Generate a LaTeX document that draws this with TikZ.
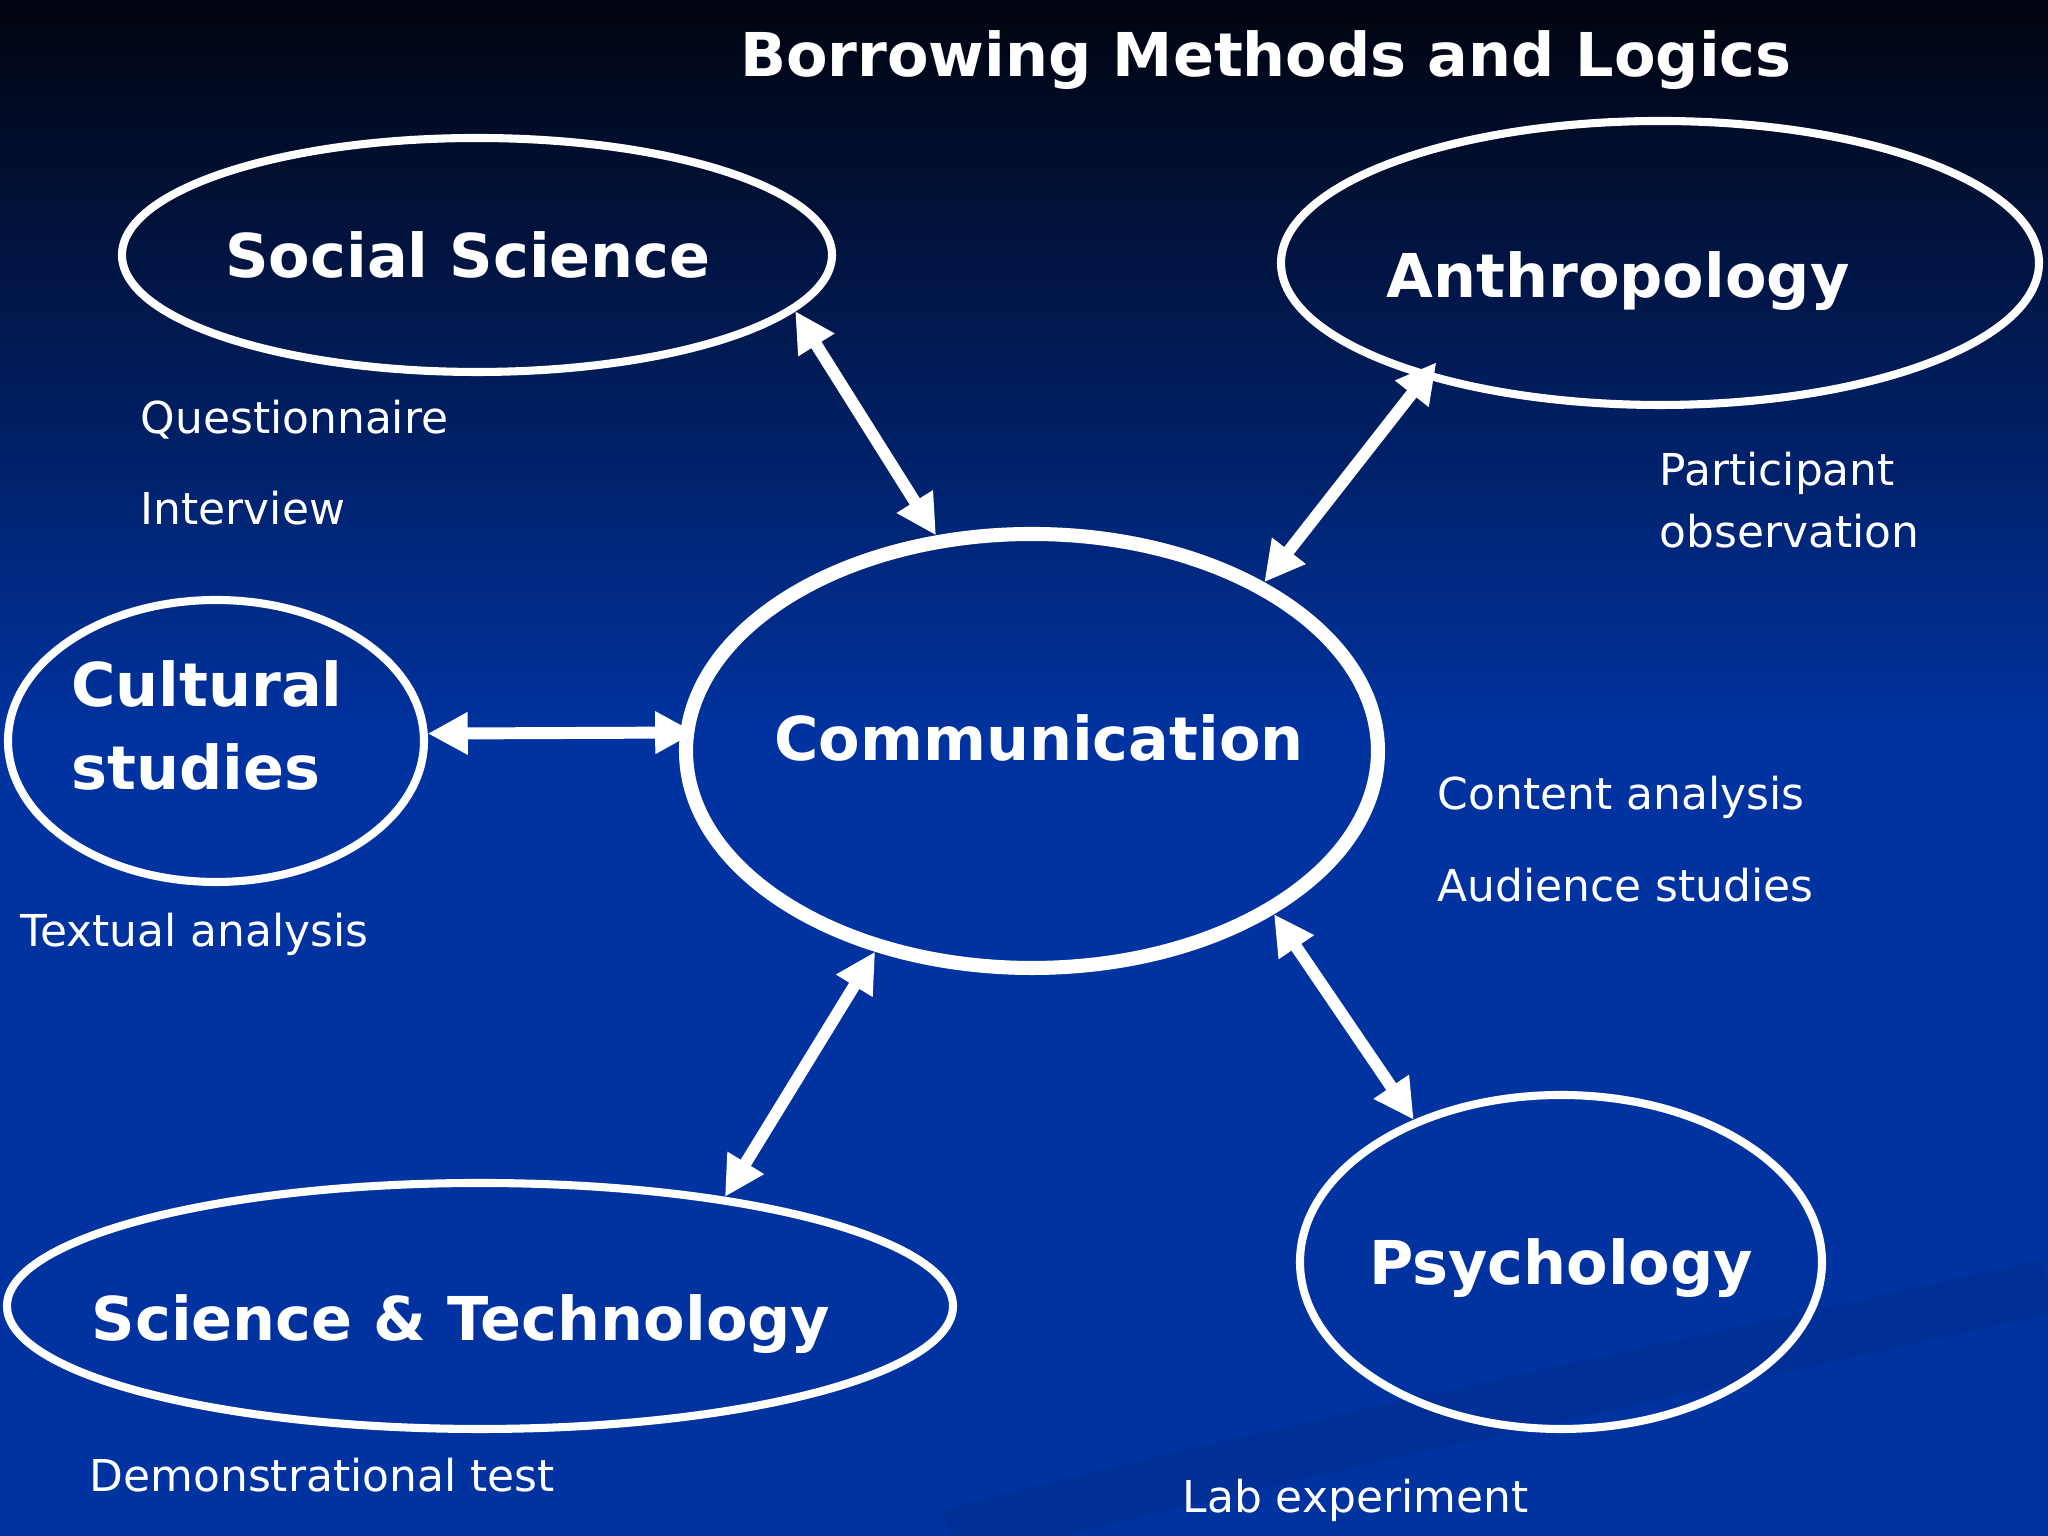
\documentclass[tikz,border=0pt]{standalone}
\usepackage{fontspec}
\setmainfont{DejaVu Sans}
\usetikzlibrary{shapes.geometric, arrows.meta}
\definecolor{slidetop}{HTML}{01040F}
\definecolor{slideblue}{HTML}{0033A0}
\definecolor{swooshblue}{HTML}{00287E}

\begin{document}
\begin{tikzpicture}[
    field/.style={ellipse, draw=white, line width=2.3pt, inner sep=0pt},
    core/.style={field, line width=4pt},
    fieldtext/.style={text=white, inner sep=0pt, text depth=0pt, align=left, font=\fontsize{17.2}{23.4}\selectfont\bfseries},
    method/.style={anchor=base west, inner sep=0pt, text=white, align=left, font=\fontsize{12.5}{17.5}\selectfont},
    link/.style={draw=white, line width=3.4pt, {Triangle[length=0.4cm, width=0.4cm]}-{Triangle[length=0.4cm, width=0.4cm]}}
]
% Background
\useasboundingbox (0,0) rectangle (20.48,15.36);
\fill[slideblue] (0,0) rectangle (20.48,8.0);
\shade[top color=slidetop, bottom color=slideblue] (0,7.99) rectangle (20.48,15.36);
\draw[swooshblue, opacity=0.3, line width=0.55cm] (9.5,0) .. controls (13,0.9) and (16.5,1.6) .. (20.48,2.5);

% Title
\node[anchor=base, inner sep=0pt, text=white, font=\fontsize{17.2}{20}\selectfont\bfseries] (title) at (12.66,14.59) {Borrowing Methods and Logics};

% Centre
\node[core, minimum width=6.92cm, minimum height=4.34cm,
      label={[fieldtext, xshift=0.07cm, yshift=0.13cm]center:Communication}] (comm) at (10.32,7.85) {};

% Neighbouring fields
\node[field, minimum width=7.10cm, minimum height=2.34cm,
      label={[fieldtext, xshift=-0.09cm]center:Social Science}] (soc) at (4.77,12.81) {};
\node[field, minimum width=7.58cm, minimum height=2.84cm,
      label={[fieldtext, xshift=-0.42cm, yshift=-0.12cm]center:Anthropology}] (anth) at (16.60,12.73) {};
\node[field, minimum width=4.16cm, minimum height=2.82cm,
      label={[fieldtext, xshift=-0.09cm, yshift=0.16cm]center:Cultural\\studies}] (cult) at (2.16,7.95) {};
\node[field, minimum width=9.46cm, minimum height=2.46cm,
      label={[fieldtext, xshift=-0.19cm, yshift=-0.12cm]center:Science \& Technology}] (scit) at (4.80,2.30) {};
\node[field, minimum width=5.22cm, minimum height=3.34cm,
      label={[fieldtext]center:Psychology}] (psy) at (15.61,2.74) {};

% Methods
\node[method] (quest) at (1.40,11.02) {Questionnaire};
\node[method] (inter) at (1.40,10.11) {Interview};
\node[method] (part) at (16.59,10.50) {Participant};
\node[method] (obs) at (16.59,9.88) {observation};
\node[method] (text) at (0.20,5.89) {Textual analysis};
\node[method] (cont) at (14.37,7.26) {Content analysis};
\node[method] (aud) at (14.37,6.34) {Audience studies};
\node[method] (demo) at (0.89,0.44) {Demonstrational test};
\node[method] (lab) at (11.82,0.23) {Lab experiment};

% Links
\draw[link] (soc.-10.6) -- (comm.114);
\draw[link, shorten <=-0.2cm] (anth.206) -- (comm.36);
\draw[link, shorten >=-0.15cm] (cult.2) -- (comm.177);
\draw[link] (scit.24) -- (comm.232);
\draw[link] (psy.136) -- (comm.-34);
\end{tikzpicture}
\end{document}
